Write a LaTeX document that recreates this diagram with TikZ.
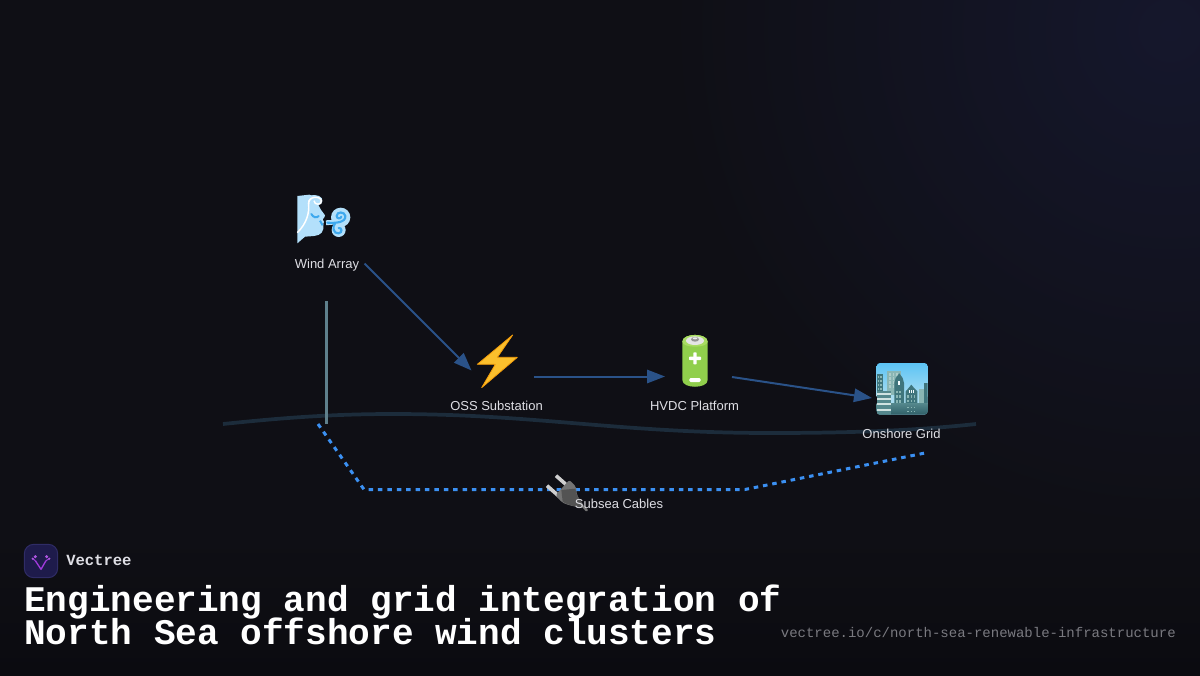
\documentclass[tikz,border=0pt]{standalone}
\usepackage{fontspec}
\setmainfont{Liberation Sans}
\newfontfamily\monof{Liberation Mono}
\usetikzlibrary{arrows.meta}
\definecolor{bgbase}{HTML}{0F0F15}
\definecolor{bgglow}{HTML}{15172C}
\definecolor{bgfoot}{HTML}{0B0B10}
\definecolor{flowc}{HTML}{2A5288}
\definecolor{cablec}{HTML}{3B90F2}
\definecolor{seabed}{HTML}{1C2C3B}
\definecolor{riser}{HTML}{5F808C}
\definecolor{labelc}{HTML}{DEDEE4}
\definecolor{facec}{HTML}{B3E0FB}
\definecolor{swirlc}{HTML}{3FA9EE}
\definecolor{boltc}{HTML}{FBC02D}
\definecolor{boltd}{HTML}{F59E0B}
\definecolor{battc}{HTML}{90CF4C}
\definecolor{battl}{HTML}{A8DC62}
\definecolor{skyc}{HTML}{5CC4F5}
\definecolor{skyl}{HTML}{A8DCF0}
\definecolor{towerc}{HTML}{3F757C}
\definecolor{towerd}{HTML}{2F5F68}
\definecolor{towerl}{HTML}{8AB6B4}
\definecolor{logofill}{HTML}{1E1B4B}
\definecolor{logoedge}{HTML}{2F2C66}
\definecolor{logomark}{HTML}{A03ADB}
\definecolor{urlc}{HTML}{7A7A80}
\definecolor{plugl}{HTML}{CFCFCF}
\definecolor{plugm}{HTML}{747474}
\definecolor{plugd}{HTML}{535353}
\tikzset{
  x=0.75pt,y=-0.75pt,
  port/.style={coordinate},
  nodelabel/.style={text=labelc,font=\fontsize{9.75pt}{11pt}\selectfont,inner sep=0pt,anchor=base},
  flow/.style={draw=flowc,line width=1.5pt,-{Triangle[length=13.5pt,width=10pt]}},
  cable/.style={draw=cablec,line width=2.25pt,dash pattern=on 3.4pt off 3.65pt},
  icon/.style={shift={#1},x=0.25pt,y=-0.25pt},
  titletext/.style={anchor=base west,inner sep=0pt,text=white,font=\monof\bfseries\fontsize{27.04pt}{30pt}\selectfont},
}
\begin{document}
\begin{tikzpicture}
\useasboundingbox (0,0) rectangle (1200,675);
\fill[bgbase] (0,0) rectangle (1200,675);
\begin{scope}
\clip (0,0) rectangle (1200,675);
\shade[inner color=bgglow,outer color=bgbase] (1170,30) circle (500);
\shade[top color=bgbase,bottom color=bgfoot] (0,535) rectangle (1200,675);
\end{scope}

% seabed and riser
\draw[seabed,line width=2.8pt] (223,424) .. controls (300,416) and (360,412) .. (450,415) .. controls (560,419) and (640,433) .. (770,433) .. controls (860,433) and (920,430) .. (976,424);
\draw[riser,line width=2.8pt] (326.5,301) -- (326.5,424);

% connection points
\node[port] (windout) at (364.5,263.5) {};
\node[port] (ossin) at (471.5,370.5) {};
\node[port] (ossout) at (534,376.5) {};
\node[port] (hvdcin) at (665,376.5) {};
\node[port] (hvdcout) at (732,377) {};
\node[port] (gridin) at (872,398) {};
\node[port] (c0) at (318,424) {};
\node[port] (c1) at (364,489.5) {};
\node[port] (c2) at (745,489.5) {};
\node[port] (c3) at (925,453) {};

\draw[flow] (windout) -- (ossin);
\draw[flow] (ossout) -- (hvdcin);
\draw[flow] (hvdcout) -- (gridin);
\draw[cable] (c0) -- (c1) -- (c2) -- (c3);

% Wind icon
\begin{scope}[icon={(270,180)}]
\fill[facec] (82,48) -- (118,44) .. controls (128,44) and (140,62) .. (146,76) .. controls (150,88) and (160,98) .. (165,106) .. controls (166,112) and (160,114) .. (158,118) .. controls (164,124) and (162,128) .. (160,132) .. controls (162,142) and (160,152) .. (155,158) .. controls (145,170) and (125,168) .. (105,170) -- (82,190) -- cycle;
\draw[white,line width=1.1pt] (82,158) .. controls (110,130) and (118,100) .. (116,72) .. controls (112,50) and (150,45) .. (154,62) .. controls (156,76) and (132,76) .. (132,62);
\fill[facec] (118,48) .. controls (140,40) and (160,50) .. (157,64) .. controls (154,78) and (135,78) .. (130,68) -- cycle;
\draw[white,line width=1.1pt] (116,72) .. controls (112,50) and (150,45) .. (154,62) .. controls (156,76) and (132,76) .. (132,62);
\draw[swirlc,line width=1.5pt,line cap=round] (124,102) .. controls (130,113) and (140,115) .. (146,108);
\draw[swirlc,line width=1.5pt] (150,122) -- (158,136);
\fill[facec] (212,112) circle (29);
\fill[facec] (206,150) circle (21);
\draw[facec,line width=3.6pt] (168,128) .. controls (190,128) and (200,125) .. (212,122);
\draw[swirlc,line width=1.6pt,line cap=round] (172,128) .. controls (195,130) and (228,128) .. (226,108) .. controls (224,94) and (200,94) .. (200,108) .. controls (200,116) and (212,118) .. (214,110);
\draw[swirlc,line width=1.6pt,line cap=round] (195,130) .. controls (186,140) and (190,162) .. (206,160) .. controls (218,158) and (216,142) .. (206,144);
\end{scope}
\node[nodelabel] (windlabel) at (327,268) {Wind Array};

% Bolt icon
\begin{scope}[icon={(440,325)}]
\draw[boltd,fill=boltc,line width=0.6pt,line join=round] (218,30) -- (112,118) -- (166,118) -- (125,188) -- (232,97) -- (172,97) -- cycle;
\end{scope}
\node[nodelabel] (osslabel) at (496.5,410) {OSS Substation};

% Battery icon
\begin{scope}[icon={(660,330)}]
\fill[battc] (67,35) .. controls (67,8) and (143,8) .. (143,35) -- (143,150) .. controls (143,177) and (67,177) .. (67,150) -- cycle;
\fill[battl] (67,35) .. controls (67,8) and (143,8) .. (143,35) .. controls (143,55) and (67,55) .. (67,35) -- cycle;
\fill[white!80!gray] (105,32) ellipse [x radius=27,y radius=13];
\fill[gray!85] (105,28) ellipse [x radius=12,y radius=7];
\fill[white!85!gray] (105,25) ellipse [x radius=7,y radius=3];
\fill[white,rounded corners=0.5pt] (100,67) rectangle (110,103);
\fill[white,rounded corners=0.5pt] (87,80) rectangle (123,90);
\fill[white,rounded corners=1pt] (88,144) rectangle (122,156);
\end{scope}
\node[nodelabel] (hvdclabel) at (694.5,410) {HVDC Platform};

% City icon
\begin{scope}[icon={(870,358)}]
\begin{scope}
\clip[rounded corners=2.5pt] (20,15) rectangle (173,170);
\shade[top color=skyc,bottom color=skyl] (20,15) rectangle (173,115);
\fill[skyl] (20,115) rectangle (173,170);
\fill[towerl] (52,38) rectangle (92,110);
\foreach \xx in {58,68,78} \foreach \yy in {46,58,70,82} \fill[towerl!70!white] (\xx,\yy) rectangle (\xx+5,\yy+7);
\fill[towerl] (147,92) rectangle (163,135);
\fill[towerc] (20,48) rectangle (38,105);
\foreach \xx in {23,31} \foreach \yy in {54,66,78,90} \fill[towerl] (\xx,\yy) rectangle (\xx+4,\yy+7);
\fill[towerc] (163,75) rectangle (173,135);
\fill[towerc] (73,75) -- (77,60) -- (88,46) -- (98,60) -- (102,75) -- (102,150) -- (73,150) -- cycle;
\fill[towerc] (107,100) -- (114,92) -- (124,80) -- (134,92) -- (142,100) -- (142,150) -- (107,150) -- cycle;
\foreach \xx in {79,88} \foreach \yy in {98,112,126} \fill[towerl] (\xx,\yy) rectangle (\xx+5,\yy+8);
\foreach \xx in {112,122,132} \foreach \yy in {112,126,140} \fill[towerl] (\xx,\yy) rectangle (\xx+4,\yy+7);
\fill[white!85!skyl] (84,68) rectangle (91,82);
\foreach \xx in {116,122,128} \fill[white!85!skyl] (\xx,96) rectangle (\xx+3,105);
\shade[top color=towerc!70!towerl,bottom color=towerd] (20,135) rectangle (173,170);
\fill[towerc!70!towerl] (20,98) rectangle (62,170);
\foreach \yy in {104,120,136,152} \fill[white!60!towerl] (20,\yy) rectangle (62,\yy+6);
\foreach \xx in {112,122,132} \foreach \yy in {146,158} \fill[towerl] (\xx,\yy) rectangle (\xx+4,\yy+5);
\end{scope}
\end{scope}
\node[nodelabel] (gridlabel) at (901.5,438) {Onshore Grid};

% Plug icon
\begin{scope}[icon={(540,470)}]
\draw[plugl,line width=2.7pt] (48,17) -- (82,47);
\draw[plugl,line width=2.7pt] (21,47) -- (56,78);
\fill[plugm,rounded corners=1.5pt] (88,30) -- (108,50) -- (111,76) -- (134,112) .. controls (112,112) and (85,106) .. (66,97) -- (46,76) -- cycle;
\fill[plugd] (64,60) -- (106,56) -- (111,76) -- (134,112) .. controls (112,112) and (85,106) .. (68,95) -- cycle;
\draw[plugm,line width=1.8pt,line cap=round] (130,110) -- (140,121);
\end{scope}
\node[nodelabel] (cablelabel) at (619,508) {Subsea Cables};

% Brand
\begin{scope}[icon={(20,540)}]
\draw[logoedge,fill=logofill,line width=0.75pt,rounded corners=7pt] (13,13) rectangle (113,113);
\draw[logomark,line width=1pt,line join=round] (46,62) -- (63,88) -- (78,62);
\draw[logomark,line width=0.8pt] (46,62) -- (38,56) (78,62) -- (88,56);
\fill[logomark!85!white] (46,50) circle (5);
\fill[logomark!85!white] (80,50) circle (5);
\fill[logomark!85!white] (38,56) circle (3.5);
\fill[logomark!85!white] (88,56) circle (3.5);
\end{scope}
\node[anchor=base west,inner sep=0pt,text=labelc,font=\monof\bfseries\fontsize{11.65pt}{14pt}\selectfont] (brand) at (66,565.5) {Vectree};
\node[titletext] (title1) at (24,611) {Engineering and grid integration of};
\node[titletext] (title2) at (24,644) {North Sea offshore wind clusters};
\node[anchor=base east,inner sep=0pt,text=urlc,font=\monof\fontsize{10.5pt}{12pt}\selectfont] (url) at (1176,637) {vectree.io/c/north-sea-renewable-infrastructure};
\end{tikzpicture}
\end{document}
